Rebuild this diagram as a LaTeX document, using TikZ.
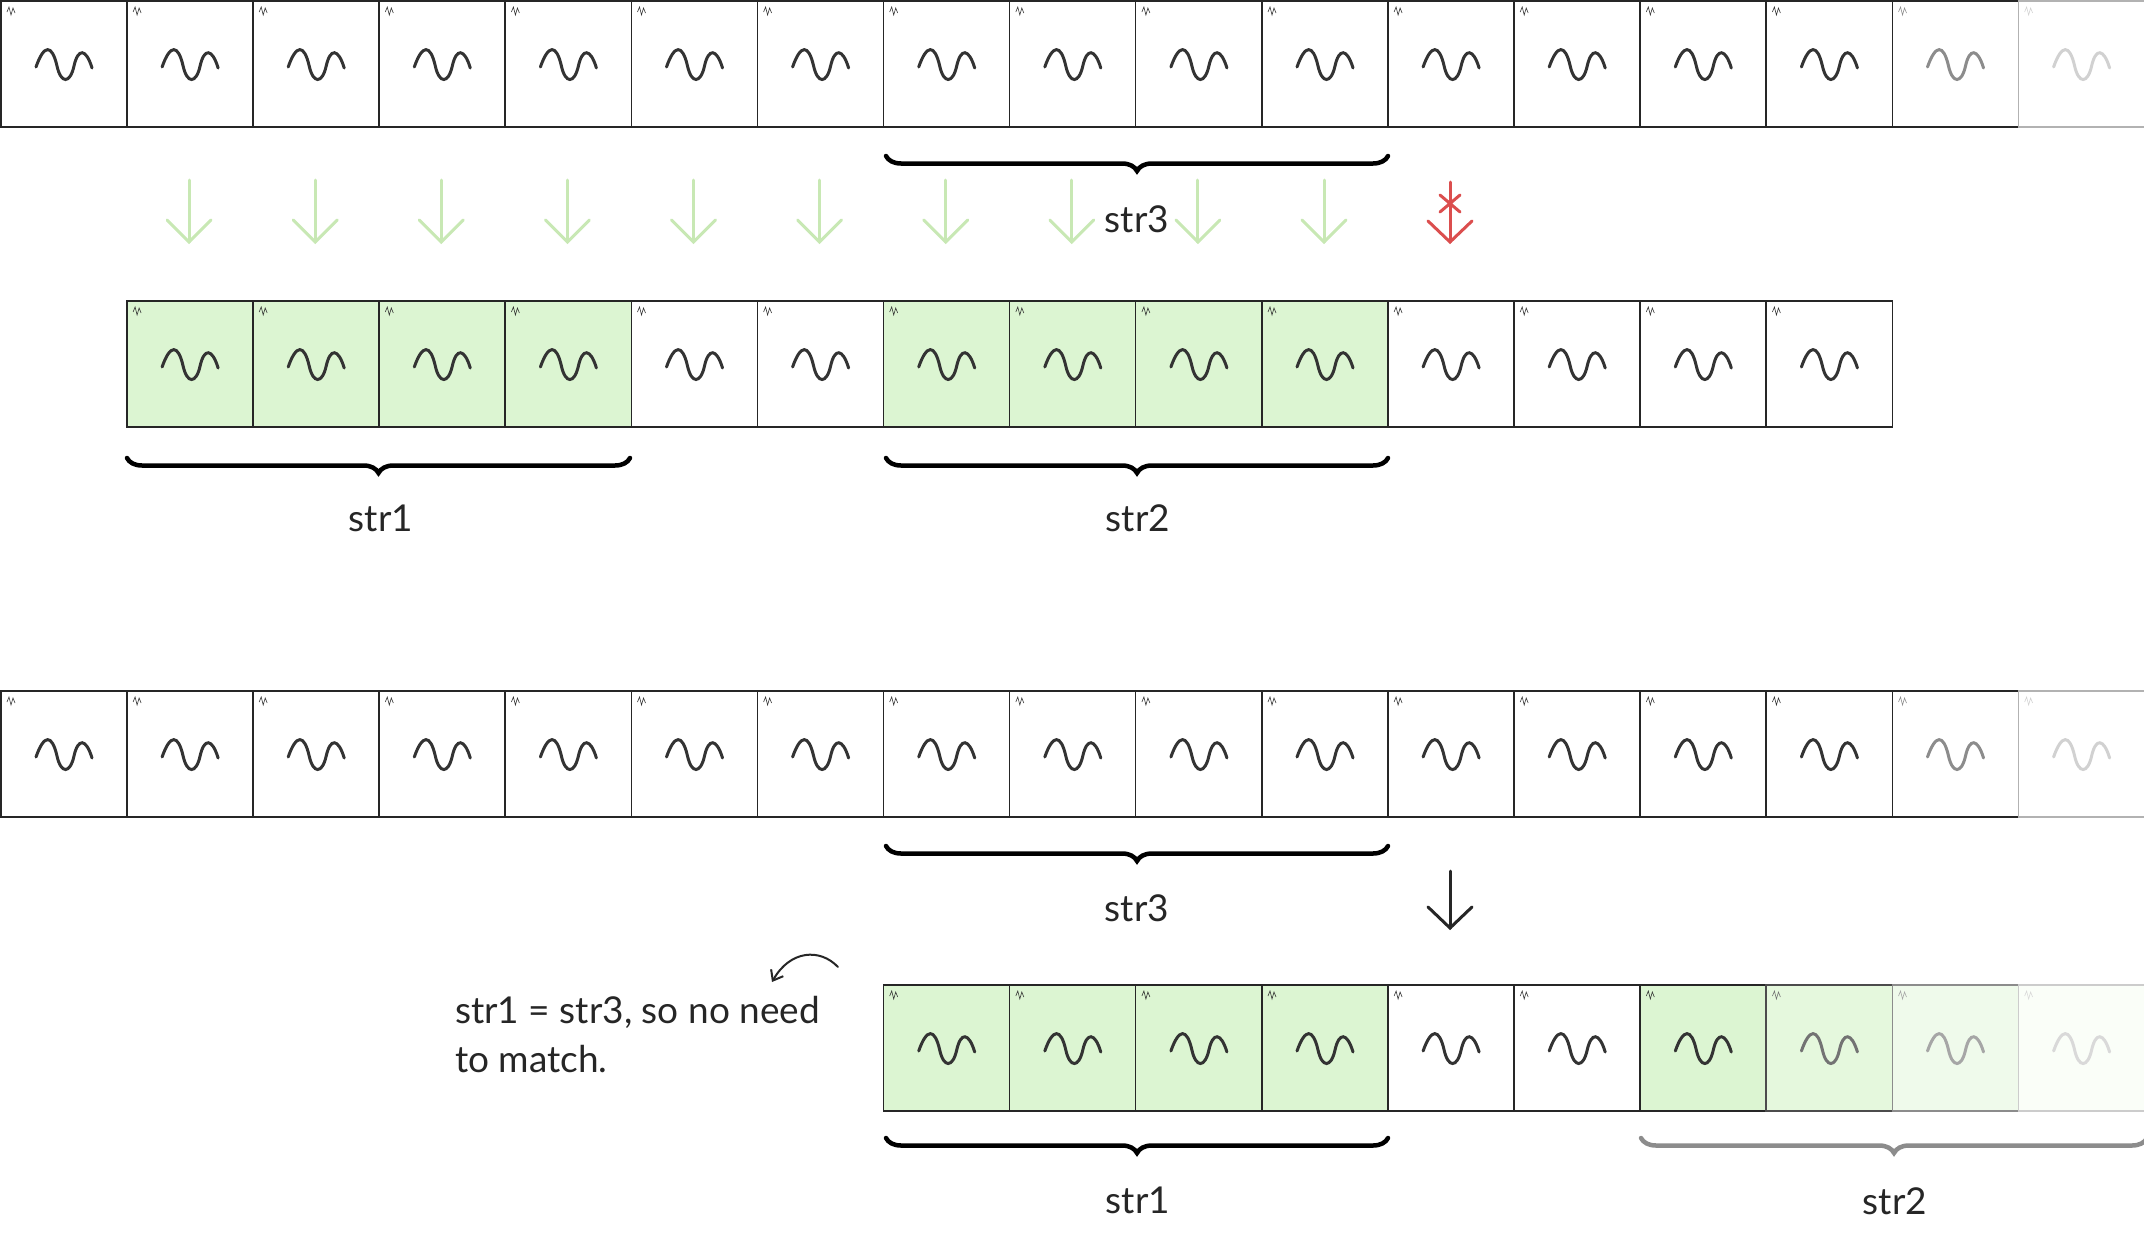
\documentclass[tikz,border=0pt]{standalone}
\usepackage{fontspec}
\setmainfont{Lato}
\usetikzlibrary{decorations.pathreplacing,arrows.meta}
\definecolor{gfill}{HTML}{DCF5D2}
\definecolor{garrow}{HTML}{C8E8B4}
\definecolor{rarrow}{HTML}{DB4E4E}
\tikzset{
  cellbox/.style={draw=black!85, line width=1.5pt},
  wv/.style={line width=3pt, line cap=round, draw=black!80},
  brc/.style={decorate, decoration={brace, amplitude=15pt, mirror, aspect=0.5}, line width=4.5pt, line cap=round},
  lbl/.style={font=\fontsize{37}{49}\selectfont, text=black!85},
  garr/.style={draw=garrow, line width=3pt, line cap=round},
}
\newcommand\mywave[3]{% x, y (cell top-left), colour
  \draw[wv, draw=#3] (#1+36,#2+67) .. controls (#1+44,#2+44) and (#1+52,#2+44) .. (#1+57,#2+66)
    .. controls (#1+61,#2+84) and (#1+70,#2+84) .. (#1+74,#2+66)
    .. controls (#1+78,#2+48) and (#1+86,#2+48) .. (#1+92,#2+68);
  \draw[draw=#3, line width=0.6pt] (#1+7,#2+12) -- (#1+9,#2+7) -- (#1+11,#2+15) -- (#1+13,#2+8) -- (#1+15,#2+13);
}
\newcommand\mycell[5]{% name, x, y, fill, wavecolour
  \node[cellbox, fill=#4, minimum width=126.1pt, minimum height=126.1pt, inner sep=0, anchor=north west] (#1) at (#2,#3) {};
  \mywave{#2}{#3}{#5}
}
\begin{document}
\begin{tikzpicture}[x=1pt,y=-1pt]
\useasboundingbox (0,0) rectangle (2144,1234);
% Row A
\foreach \i in {0,...,14} { \mycell{a\i}{\i*126.1}{0}{white}{black!80} }
\mycell{a15}{15*126.1}{0}{white}{black!45}
\node[draw=black!30, line width=1.5pt, minimum width=126.1pt, minimum height=126.1pt, inner sep=0, anchor=north west] (a16) at (16*126.1,0) {};
\mywave{16*126.1}{0}{black!18}
% arrows
\foreach \i in {1,...,10} {
  \coordinate (as\i) at (\i*126.1+63,180);
  \coordinate (ae\i) at (\i*126.1+63,242);
  \draw[garr] (as\i) -- (ae\i);
  \draw[garr] (\i*126.1+41,220) -- (ae\i) -- (\i*126.1+85,220);
}
\coordinate (rs) at (1450,182); \coordinate (re) at (1450,242);
\draw[draw=rarrow, line width=3pt, line cap=round] (rs) -- (re);
\draw[draw=rarrow, line width=3pt, line cap=round] (1428,221) -- (re) -- (1472,221);
\draw[draw=rarrow, line width=3pt, line cap=round] (1440,195) -- (1460,212) (1460,195) -- (1440,212);
% brace str3 top
\coordinate (b1s) at (886,156); \coordinate (b1e) at (1388,156);
\draw[brc] (b1s) -- (b1e);
\node[lbl] (l1) at (1137,219) {str3};
% Row B
\foreach \i in {1,...,4,7,8,9,10} { \mycell{b\i}{\i*126.1}{300}{gfill}{black!80} }
\foreach \i in {5,6,11,12,13,14} { \mycell{b\i}{\i*126.1}{300}{white}{black!80} }
\coordinate (b2s) at (127,458); \coordinate (b2e) at (630,458);
\draw[brc] (b2s) -- (b2e);
\node[lbl] (l2) at (381,518) {str1};
\coordinate (b3s) at (886,458); \coordinate (b3e) at (1388,458);
\draw[brc] (b3s) -- (b3e);
\node[lbl] (l3) at (1138,518) {str2};
% Row C
\foreach \i in {0,...,14} { \mycell{c\i}{\i*126.1}{690}{white}{black!80} }
\mycell{c15}{15*126.1}{690}{white}{black!45}
\node[draw=black!30, line width=1.5pt, minimum width=126.1pt, minimum height=126.1pt, inner sep=0, anchor=north west] (c16) at (16*126.1,690) {};
\mywave{16*126.1}{690}{black!18}
\coordinate (b4s) at (886,846); \coordinate (b4e) at (1388,846);
\draw[brc] (b4s) -- (b4e);
\node[lbl] (l4) at (1137,908) {str3};
\coordinate (ks) at (1450,871); \coordinate (ke) at (1450,928);
\draw[line width=3pt, line cap=round, black!85] (ks) -- (ke);
\draw[line width=3pt, line cap=round, black!85] (1428,907) -- (ke) -- (1472,907);
% Row D
\foreach \i in {7,...,10} { \mycell{d\i}{\i*126.1}{984}{gfill}{black!80} }
\foreach \i in {11,12} { \mycell{d\i}{\i*126.1}{984}{white}{black!80} }
\mycell{d13}{13*126.1}{984}{gfill}{black!80}
\node[draw=black!70, fill=gfill!75, line width=1.5pt, minimum width=126.1pt, minimum height=126.1pt, inner sep=0, anchor=north west] (d14) at (14*126.1,984) {};
\mywave{14*126.1}{984}{black!55}
\node[draw=black!45, fill=gfill!45, line width=1.5pt, minimum width=126.1pt, minimum height=126.1pt, inner sep=0, anchor=north west] (d15) at (15*126.1,984) {};
\mywave{15*126.1}{984}{black!35}
\node[draw=black!20, fill=gfill!15, line width=1.5pt, minimum width=126.1pt, minimum height=126.1pt, inner sep=0, anchor=north west] (d16) at (16*126.1,984) {};
\mywave{16*126.1}{984}{black!15}
\coordinate (b5s) at (886,1138); \coordinate (b5e) at (1388,1138);
\draw[brc] (b5s) -- (b5e);
\node[lbl] (l5) at (1138,1200) {str1};
\coordinate (b6s) at (1641,1138); \coordinate (b6e) at (2147,1138);
\draw[brc, black!45] (b6s) -- (b6e);
\node[lbl] (l6) at (1895,1201) {str2};
% note
\node[lbl, align=left, anchor=north west, inner sep=0] (note) at (455,996) {str1 = str3, so no need\\to match.};
\coordinate (cs) at (838,967); \coordinate (ce) at (772,982);
\draw[line width=2pt, line cap=round, black!85, -{Straight Barb[length=9pt,width=14pt]}] (cs) .. controls (820,948) and (790,950) .. (ce);
\end{tikzpicture}
\end{document}
